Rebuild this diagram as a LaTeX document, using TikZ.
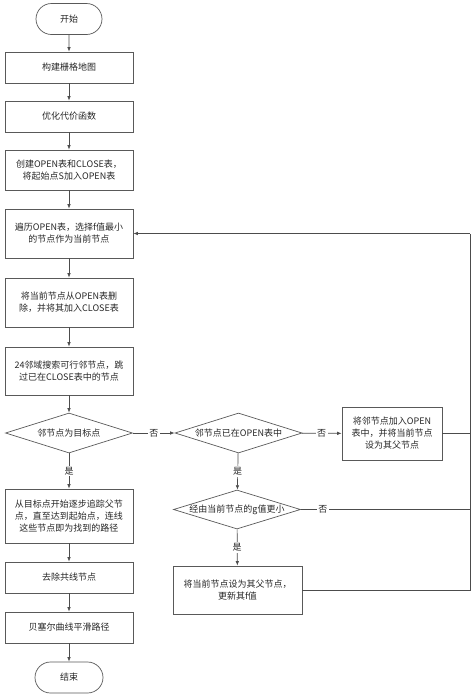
\documentclass[tikz,border=0pt]{standalone}
\usepackage{fontspec}
\setmainfont{Noto Sans CJK SC}
\usetikzlibrary{shapes.geometric,shapes.misc,arrows.meta}
\begin{document}
\begin{tikzpicture}
[x=1pt,y=-1pt,
  every node/.style={font=\fontsize{9}{12}\selectfont,text=black!85},%
  termdecorate/.style={shape=rounded rectangle,draw=black!65,line width=0.7pt,minimum width=66pt,minimum height=31pt,inner sep=0pt},%
  boxdecorate/.style={shape=rectangle,draw=black!65,line width=0.7pt,minimum width=128pt,align=center,inner sep=0pt},%
  diadecorate/.style={shape=diamond,draw=black!65,line width=0.7pt,minimum width=127pt,minimum height=40pt,inner sep=0pt},%
  arrowdecorate/.style={-{Latex[length=4.5pt,width=3.5pt]},draw=black!70,line width=0.7pt},%
  linedecorate/.style={draw=black!70,line width=0.7pt},%
  labeldecorate/.style={fill=white,inner sep=1.5pt}]
\useasboundingbox (0,0) rectangle (474,697);
% main column
\node (start) at (69,19) [termdecorate] {开始};
\node (grid) at (69,67.5) [boxdecorate,minimum height=31pt] {构建栅格地图};
\node (cost) at (69,116.5) [boxdecorate,minimum height=31pt] {优化代价函数};
\node (init) at (69,170) [boxdecorate,minimum height=40pt] {创建OPEN表和CLOSE表，\\将起始点S加入OPEN表};
\node (pick) at (69,233.5) [boxdecorate,minimum height=49pt] {遍历OPEN表，选择f值最小\\的节点作为当前节点};
\node (move) at (69,302.5) [boxdecorate,minimum height=49pt] {将当前节点从OPEN表删\\除，并将其加入CLOSE表};
\node (search) at (69,371) [boxdecorate,minimum height=48pt] {24邻域搜索可行邻节点，跳\\过已在CLOSE表中的节点};
\node (isgoal) at (69,433) [diadecorate] {};
\node (isgoaltext) at (isgoal) {邻节点为目标点};
\node (trace) at (69,516) [boxdecorate,minimum height=54pt] {从目标点开始逐步追踪父节\\点，直至达到起始点，连线\\这些节点即为找到的路径};
\node (prune) at (69,577.5) [boxdecorate,minimum height=31pt] {去除共线节点};
\node (smooth) at (69,627.5) [boxdecorate,minimum height=31pt] {贝塞尔曲线平滑路径};
\node (stop) at (69,677.5) [termdecorate,minimum width=68pt] {结束};
% right branch
\node (inopen) at (238.5,433) [diadecorate] {};
\node (inopentext) at (inopen) {邻节点已在OPEN表中};
\node (addopen) at (392,433.5) [boxdecorate,minimum width=100pt,minimum height=53pt] {将邻节点加入OPEN\\表中，并将当前节点\\设为其父节点};
\node (smaller) at (237,509.5) [diadecorate,minimum height=39pt] {};
\node (smallertext) at (smaller) {经由当前节点的g值更小};
\node (update) at (237.5,590) [boxdecorate,minimum width=129pt,minimum height=48pt] {将当前节点设为其父节点，\\更新其f值};
\coordinate (back) at (470,233.5);
% edges or lines
\path
(start) edge[arrowdecorate] (grid)
(grid) edge[arrowdecorate] (cost)
(cost) edge[arrowdecorate] (init)
(init) edge[arrowdecorate] (pick)
(pick) edge[arrowdecorate] (move)
(move) edge[arrowdecorate] (search)
(search) edge[arrowdecorate] (isgoal)
(isgoal) edge[arrowdecorate] node[labeldecorate]{是} (trace)
(trace) edge[arrowdecorate] (prune)
(prune) edge[arrowdecorate] (smooth)
(smooth) edge[arrowdecorate] (stop)
(isgoal) edge[arrowdecorate] node[labeldecorate]{否} (inopen)
(inopen) edge[arrowdecorate] node[labeldecorate]{否} (addopen)
(inopen) edge[arrowdecorate] node[labeldecorate]{是} (smaller)
(smaller) edge[arrowdecorate] node[labeldecorate]{是} (update);
% loop back
\draw[linedecorate] (update.east) -| (back);
\draw[linedecorate] (addopen.east) -- (addopen.east -| back);
\draw[linedecorate] (smaller.east) -- node[labeldecorate,pos=0.13]{否} (smaller.east -| back);
\draw[arrowdecorate] (back) -- (pick.east);
\end{tikzpicture}
\end{document}
